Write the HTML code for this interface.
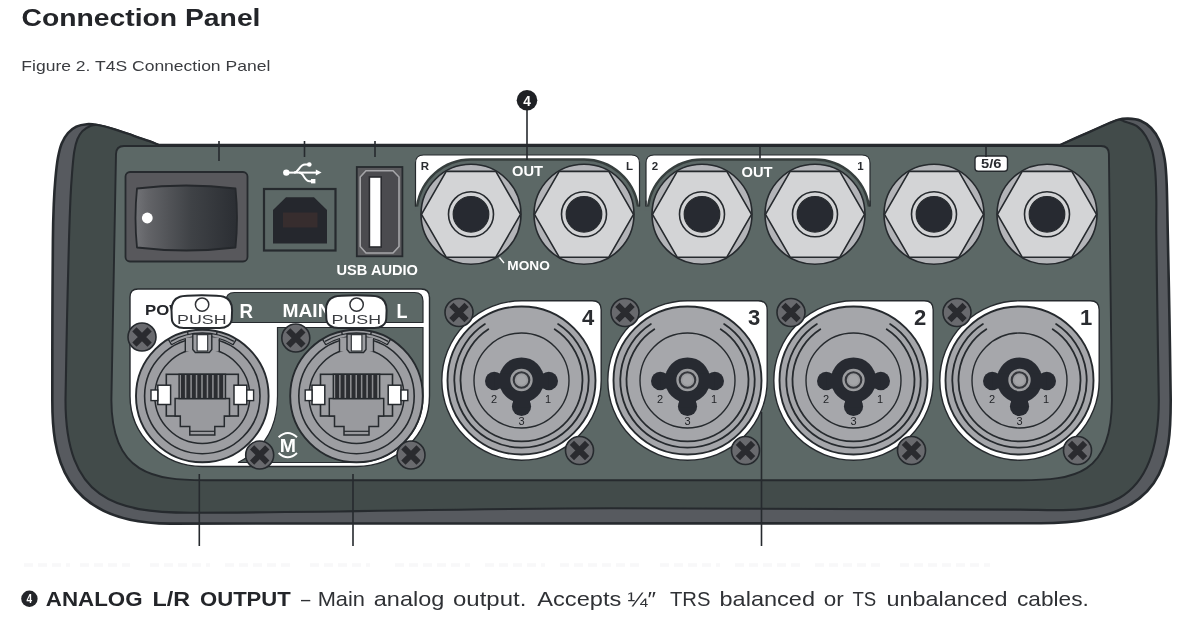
<!DOCTYPE html>
<html><head><meta charset="utf-8"><title>Connection Panel</title>
<style>html,body{margin:0;padding:0;background:#fff;}body{width:1200px;height:623px;overflow:hidden;font-family:"Liberation Sans",sans-serif;}svg{display:block;will-change:transform;opacity:0.999;}</style></head>
<body>
<svg width="1200" height="623" viewBox="0 0 1200 623" font-family="'Liberation Sans', sans-serif">
<defs><linearGradient id="rk" x1="0" y1="0" x2="1" y2="0"><stop offset="0" stop-color="#727377"/><stop offset="0.12" stop-color="#636468"/><stop offset="0.55" stop-color="#3f4246"/><stop offset="1" stop-color="#2b2e33"/></linearGradient></defs>
<rect width="1200" height="623" fill="#ffffff"/>
<text x="21.5" y="26.3" font-size="24.5" font-weight="bold" fill="#232529" textLength="239" lengthAdjust="spacingAndGlyphs">Connection Panel</text>
<text x="21.3" y="70.8" font-size="15" fill="#3a3c40" textLength="249" lengthAdjust="spacingAndGlyphs">Figure 2. T4S Connection Panel</text>
<path d="M158.8,145.1 C157.2,144.5 153.8,142.9 149.4,141.3 C145.1,139.7 138.6,137.5 132.7,135.5 C126.8,133.5 119.8,130.9 113.9,129.2 C108.0,127.4 101.7,125.8 97.2,125.0 C92.7,124.2 90.3,123.9 86.8,124.2 C83.3,124.5 79.4,125.2 76.3,126.7 C73.2,128.2 70.4,130.2 68.0,133.0 C65.6,135.8 63.4,139.2 61.7,143.4 C60.0,147.6 59.0,152.1 57.9,158.0 C56.8,163.9 56.1,171.2 55.4,178.9 C54.7,186.6 54.2,193.9 53.8,204.0 C53.4,214.1 53.1,220.1 52.9,239.4 C52.7,258.7 52.5,293.2 52.4,320.0 C52.3,346.8 52.3,386.7 52.3,400.0 C52.3,451.2 59.0,523.6 170.3,523.6 L1040.9,523.2 C1168.5,523.2 1170.7,457.5 1170.7,400 L1170.7,400.0 C1170.5,386.7 1170.0,347.6 1169.5,320.0 C1169.0,292.4 1168.3,257.0 1167.8,234.4 C1167.3,211.8 1167.2,196.8 1166.7,184.3 C1166.2,171.8 1165.9,166.6 1164.7,159.3 C1163.5,152.0 1161.7,145.7 1159.4,140.5 C1157.1,135.3 1154.2,131.3 1151.1,128.0 C1148.0,124.7 1144.4,122.3 1140.6,120.7 C1136.8,119.1 1131.9,118.7 1128.1,118.6 C1124.3,118.5 1122.2,118.6 1117.7,120.0 C1113.2,121.4 1106.9,124.4 1101.0,126.9 C1095.1,129.5 1088.5,132.5 1082.2,135.3 C1075.9,138.1 1066.9,142.0 1063.4,143.6 C1059.9,145.2 1061.4,144.8 1061.0,145.0 Z" fill="#575a5f" stroke="#262a2e" stroke-width="2.6" stroke-linejoin="round"/>
<path d="M158.8,145.1 C157.2,144.5 153.8,142.9 149.4,141.3 C145.1,139.7 138.6,137.5 132.7,135.5 C126.8,133.5 119.8,130.9 113.9,129.2 C108.0,127.4 101.2,125.5 97.2,125.0 C93.2,124.5 92.3,125.3 89.9,126.3 C87.5,127.3 84.7,128.8 82.6,130.9 C80.5,133.1 78.8,135.7 77.4,139.2 C76.0,142.7 75.1,146.2 74.2,151.8 C73.3,157.4 72.7,164.9 72.1,172.6 C71.5,180.2 71.0,186.6 70.5,197.7 C70.0,208.8 69.6,219.0 69.0,239.4 C68.4,259.8 67.6,293.2 67.0,320.0 C66.4,346.8 65.8,386.7 65.5,400.0 C65.5,499.6 114.6,512.7 191,512.7 C330,512.7 470,508.3 611,508.3 C760,508.3 900,508.6 1020,509.6 C1080.2,509.6 1158.8,525 1158.8,400 L1158.8,400.0 C1158.6,386.7 1157.9,347.6 1157.5,320.0 C1157.1,292.4 1156.5,254.6 1156.3,234.4 C1156.1,214.2 1156.5,209.3 1156.3,198.9 C1156.1,188.5 1156.0,179.8 1155.3,171.8 C1154.6,163.8 1153.7,156.8 1152.1,150.9 C1150.5,145.0 1148.5,140.5 1145.9,136.3 C1143.3,132.1 1140.0,128.3 1136.5,125.9 C1133.0,123.5 1128.1,122.7 1125.0,121.7 C1121.9,120.7 1121.7,119.1 1117.7,120.0 C1113.7,120.9 1106.9,124.4 1101.0,126.9 C1095.1,129.5 1088.5,132.5 1082.2,135.3 C1075.9,138.1 1066.9,142.0 1063.4,143.6 C1059.9,145.2 1061.4,144.8 1061.0,145.0 Z" fill="#424b4a" stroke="#262a2e" stroke-width="2.1" stroke-linejoin="round"/>
<path d="M124,146 L1101,146 Q1108.8,146 1108.9,154 L1111.9,400 C1111.9,474.7 1075.2,480.2 1020,480.2 L205,480.2 C154.8,480.2 111.4,474.7 111.4,400 L116,154 Q116.2,146 124,146 Z" fill="#5c6866" stroke="#262a2e" stroke-width="1.9"/>
<path d="M158.8,145.4 L1061,145.4" stroke="#262a2e" stroke-width="2.6" fill="none"/>
<rect x="125.5" y="172" width="122" height="89.5" rx="4.5" fill="#58585c" stroke="#262a2e" stroke-width="1.8"/>
<path d="M137,188.5 Q186,182.5 235.5,188.5 Q238.5,218 235.5,247.5 Q186,253.5 137,247.5 Q134,218 137,188.5 Z" fill="url(#rk)" stroke="#25282c" stroke-width="1.8" stroke-linejoin="round"/>
<circle cx="147.3" cy="218" r="5.4" fill="#ffffff"/>
<g stroke="#ffffff" stroke-width="2" fill="none"><path d="M287,172.6 L317,172.6"/><path d="M294,172.6 C299,172.6 299,164.6 305,164.6 L308,164.6"/><path d="M299,172.6 C304,172.6 304,181.2 309.5,181.2 L311.5,181.2"/></g>
<circle cx="286.3" cy="172.6" r="3.2" fill="#ffffff"/>
<circle cx="309.3" cy="164.5" r="2.3" fill="#ffffff"/>
<rect x="311" y="179" width="4.4" height="4.4" fill="#ffffff"/>
<path d="M315.8,169.6 L321.6,172.6 L315.8,175.6 Z" fill="#ffffff"/>
<rect x="264" y="189" width="71.5" height="61.5" fill="#5c6866" stroke="#262a2e" stroke-width="2.2"/>
<path d="M273,243.5 L273,210 L286,197.3 L314,197.3 L327,210 L327,243.5 Z" fill="#25272d"/>
<rect x="283" y="212.5" width="34.5" height="15" fill="#372d2e"/>
<rect x="356.8" y="167" width="45.6" height="89.3" fill="#59595c" stroke="#262a2e" stroke-width="1.8"/>
<path d="M366,170.8 L393,170.8 L399,177 L399,246.5 L393,253 L366,253 L360.2,246.5 L360.2,177 Z" fill="#4b4b4f" stroke="#a6a6a9" stroke-width="1.6"/>
<rect x="369.4" y="177" width="11.8" height="70" fill="#ffffff" stroke="#2a2b2f" stroke-width="1.6"/>
<text x="336.5" y="275" font-size="14.3" font-weight="bold" fill="#ffffff" textLength="81.5" lengthAdjust="spacingAndGlyphs">USB AUDIO</text>
<path d="M415.5,206.5 L415.5,163 Q415.5,155 423.5,155 L631.5,155 Q639.5,155 639.5,163 L639.5,206.5 Z" fill="#ffffff" stroke="#262a2e" stroke-width="1.2"/>
<path d="M417.0,208.0 L417.0,206.5 A54.5,54.5 0 0 1 471,159.5 L584,159.5 A54.5,54.5 0 0 1 638.0,206.5 L638.0,208.0 Z" fill="#5c6866"/>
<rect x="414.0" y="206.3" width="227.0" height="4" fill="#5c6866"/>
<path d="M417.0,206.5 A54.5,54.5 0 0 1 471,159.5 L584,159.5 A54.5,54.5 0 0 1 638.0,206.5" fill="none" stroke="#363e3d" stroke-width="2.4"/>
<path d="M415.5,200.5 L415.5,206.5 M639.5,200.5 L639.5,206.5" stroke="#262a2e" stroke-width="1.2"/>
<path d="M646,206.5 L646,163 Q646,155 654,155 L862,155 Q870,155 870,163 L870,206.5 Z" fill="#ffffff" stroke="#262a2e" stroke-width="1.2"/>
<path d="M648.0,208.0 L648.0,206.5 A54.5,54.5 0 0 1 702,159.5 L815,159.5 A54.5,54.5 0 0 1 869.0,206.5 L869.0,208.0 Z" fill="#5c6866"/>
<rect x="644.5" y="206.3" width="227" height="4" fill="#5c6866"/>
<path d="M648.0,206.5 A54.5,54.5 0 0 1 702,159.5 L815,159.5 A54.5,54.5 0 0 1 869.0,206.5" fill="none" stroke="#363e3d" stroke-width="2.4"/>
<path d="M646,200.5 L646,206.5 M870,200.5 L870,206.5" stroke="#262a2e" stroke-width="1.2"/>
<circle cx="471" cy="214.3" r="50" fill="#b3b4b8" stroke="#262a2e" stroke-width="1.6"/>
<polygon points="520.5,214.3 495.8,257.2 446.2,257.2 421.5,214.3 446.2,171.4 495.8,171.4" fill="#d3d4d6" stroke="#262a2e" stroke-width="1.6" stroke-linejoin="round"/>
<circle cx="471" cy="214.3" r="22.5" fill="#d3d4d6" stroke="#262a2e" stroke-width="1.6"/>
<circle cx="471" cy="214.3" r="17.8" fill="#272a31" stroke="#262a2e" stroke-width="1.2"/>
<circle cx="584" cy="214.3" r="50" fill="#b3b4b8" stroke="#262a2e" stroke-width="1.6"/>
<polygon points="633.5,214.3 608.8,257.2 559.2,257.2 534.5,214.3 559.2,171.4 608.8,171.4" fill="#d3d4d6" stroke="#262a2e" stroke-width="1.6" stroke-linejoin="round"/>
<circle cx="584" cy="214.3" r="22.5" fill="#d3d4d6" stroke="#262a2e" stroke-width="1.6"/>
<circle cx="584" cy="214.3" r="17.8" fill="#272a31" stroke="#262a2e" stroke-width="1.2"/>
<circle cx="702" cy="214.3" r="50" fill="#b3b4b8" stroke="#262a2e" stroke-width="1.6"/>
<polygon points="751.5,214.3 726.8,257.2 677.2,257.2 652.5,214.3 677.2,171.4 726.8,171.4" fill="#d3d4d6" stroke="#262a2e" stroke-width="1.6" stroke-linejoin="round"/>
<circle cx="702" cy="214.3" r="22.5" fill="#d3d4d6" stroke="#262a2e" stroke-width="1.6"/>
<circle cx="702" cy="214.3" r="17.8" fill="#272a31" stroke="#262a2e" stroke-width="1.2"/>
<circle cx="815" cy="214.3" r="50" fill="#b3b4b8" stroke="#262a2e" stroke-width="1.6"/>
<polygon points="864.5,214.3 839.8,257.2 790.2,257.2 765.5,214.3 790.2,171.4 839.8,171.4" fill="#d3d4d6" stroke="#262a2e" stroke-width="1.6" stroke-linejoin="round"/>
<circle cx="815" cy="214.3" r="22.5" fill="#d3d4d6" stroke="#262a2e" stroke-width="1.6"/>
<circle cx="815" cy="214.3" r="17.8" fill="#272a31" stroke="#262a2e" stroke-width="1.2"/>
<circle cx="934" cy="214.3" r="50" fill="#b3b4b8" stroke="#262a2e" stroke-width="1.6"/>
<polygon points="983.5,214.3 958.8,257.2 909.2,257.2 884.5,214.3 909.2,171.4 958.8,171.4" fill="#d3d4d6" stroke="#262a2e" stroke-width="1.6" stroke-linejoin="round"/>
<circle cx="934" cy="214.3" r="22.5" fill="#d3d4d6" stroke="#262a2e" stroke-width="1.6"/>
<circle cx="934" cy="214.3" r="17.8" fill="#272a31" stroke="#262a2e" stroke-width="1.2"/>
<circle cx="1047" cy="214.3" r="50" fill="#b3b4b8" stroke="#262a2e" stroke-width="1.6"/>
<polygon points="1096.5,214.3 1071.8,257.2 1022.2,257.2 997.5,214.3 1022.2,171.4 1071.8,171.4" fill="#d3d4d6" stroke="#262a2e" stroke-width="1.6" stroke-linejoin="round"/>
<circle cx="1047" cy="214.3" r="22.5" fill="#d3d4d6" stroke="#262a2e" stroke-width="1.6"/>
<circle cx="1047" cy="214.3" r="17.8" fill="#272a31" stroke="#262a2e" stroke-width="1.2"/>
<text x="425" y="170" font-size="11.5" font-weight="bold" fill="#2a2c30" text-anchor="middle">R</text>
<text x="629.5" y="170" font-size="11.5" font-weight="bold" fill="#2a2c30" text-anchor="middle">L</text>
<text x="655" y="170" font-size="11.5" font-weight="bold" fill="#2a2c30" text-anchor="middle">2</text>
<text x="860.5" y="170" font-size="11.5" font-weight="bold" fill="#2a2c30" text-anchor="middle">1</text>
<text x="527.5" y="176.3" font-size="14.5" font-weight="bold" fill="#ffffff" text-anchor="middle" textLength="31" lengthAdjust="spacingAndGlyphs">OUT</text>
<text x="757" y="176.8" font-size="14.5" font-weight="bold" fill="#ffffff" text-anchor="middle" textLength="31" lengthAdjust="spacingAndGlyphs">OUT</text>
<path d="M499.5,257.5 L504,263" stroke="#ffffff" stroke-width="1.3"/>
<text x="507.3" y="269.8" font-size="13" font-weight="bold" fill="#ffffff" textLength="42.5" lengthAdjust="spacingAndGlyphs">MONO</text>
<rect x="975" y="156" width="32.5" height="15.3" rx="3.2" fill="#ffffff" stroke="#262a2e" stroke-width="1.4"/>
<text x="991.2" y="168.4" font-size="12.5" font-weight="bold" fill="#2a2c30" text-anchor="middle" textLength="20.5" lengthAdjust="spacingAndGlyphs">5/6</text>
<path d="M219,141 L219,161 M304.5,141 L304.5,157 M375,141 L375,157 M760,145 L760,158.5 M986,145 L986,157" stroke="#262a2e" stroke-width="1.6" fill="none"/>
<path d="M527,108 L527,160" stroke="#262a2e" stroke-width="1.6" fill="none"/>
<circle cx="527" cy="100.3" r="10.3" fill="#1f2125"/>
<text x="527" y="106" font-size="15.5" font-weight="bold" fill="#ffffff" text-anchor="middle" textLength="7.6" lengthAdjust="spacingAndGlyphs">4</text>
<path d="M138,289 L421,289 Q429.5,289 429.5,297.5 L429.5,396 A73,70.5 0 0 1 356.5,466.5 L202.3,466.5 A72.3,70.5 0 0 1 130,396 L130,297 Q130,289 138,289 Z" fill="#ffffff" stroke="#262a2e" stroke-width="1.4"/>
<path d="M277.5,327.5 L423,327.5 L423,396 A66.5,66.5 0 0 1 356.5,462.5 L238,462.5 Q277.5,443 277.5,396 Z" fill="#5c6866" stroke="#262a2e" stroke-width="1.2"/>
<path d="M226,322.5 L226,301 Q226,292.5 234.5,292.5 L414.5,292.5 Q423,292.5 423,301 L423,322.5 Z" fill="#5c6866" stroke="#262a2e" stroke-width="1.2"/>
<text x="145" y="315.3" font-size="15" font-weight="bold" fill="#232529" textLength="40" lengthAdjust="spacingAndGlyphs">POW</text>
<text x="246.3" y="317.5" font-size="21" font-weight="bold" fill="#ffffff" text-anchor="middle" textLength="13.5" lengthAdjust="spacingAndGlyphs">R</text>
<text x="282.5" y="316.5" font-size="17.5" font-weight="bold" fill="#ffffff" textLength="49" lengthAdjust="spacingAndGlyphs">MAIN</text>
<text x="402" y="317.5" font-size="21" font-weight="bold" fill="#ffffff" text-anchor="middle" textLength="11" lengthAdjust="spacingAndGlyphs">L</text>
<circle cx="202.3" cy="396" r="66.3" fill="#9d9ea2" stroke="#262a2e" stroke-width="1.9"/>
<circle cx="202.3" cy="396" r="57.7" fill="#9d9ea2" stroke="#262a2e" stroke-width="1.6"/>
<circle cx="202.3" cy="396" r="47.5" fill="#9d9ea2" stroke="#262a2e" stroke-width="1.5"/>
<path d="M168.2,339.2 L171.7,345.0 M236.4,339.2 L232.9,345.0" stroke="#262a2e" stroke-width="1.4"/>
<path d="M170.8,341.4 A63,63 0 0 1 233.8,341.4" fill="none" stroke="#262a2e" stroke-width="1.3"/>
<path d="M171.5,344.7 A59.8,59.8 0 0 1 233.1,344.7" fill="none" stroke="#262a2e" stroke-width="1.3"/>
<path d="M187.4,331.4 L188.1,334.6" stroke="#262a2e" stroke-width="1.4"/>
<path d="M217.2,331.4 L216.5,334.6" stroke="#262a2e" stroke-width="1.4"/>
<rect x="185.8" y="337.5" width="33" height="14" fill="#9d9ea2"/>
<path d="M185.3,339 L185.3,351.7 M219.3,339 L219.3,351.7" stroke="#262a2e" stroke-width="1.4"/>
<path d="M192.8,334 L211.8,334 L211.8,349.5 L209.3,352.5 L195.3,352.5 L192.8,349.5 Z" fill="#9d9ea2" stroke="#262a2e" stroke-width="1.4" stroke-linejoin="round"/>
<rect x="197.10000000000002" y="334.7" width="10.6" height="16.3" fill="#ffffff" stroke="#262a2e" stroke-width="1.1"/>
<rect x="166.3" y="374.3" width="72" height="41.69999999999999" fill="#9d9ea2" stroke="#262a2e" stroke-width="1.6"/>
<path d="M175.10000000000002,398.6 L229.5,398.6 L229.5,416 L224.3,416 L224.3,426.5 L214.8,426.5 L214.8,435 L189.8,435 L189.8,426.5 L180.3,426.5 L180.3,416 L175.10000000000002,416 Z" fill="#999a9e" stroke="#262a2e" stroke-width="1.5" stroke-linejoin="miter"/>
<path d="M189.8,431.3 L214.8,431.3" fill="none" stroke="#262a2e" stroke-width="1.2"/>
<rect x="179.10000000000002" y="374.3" width="46.4" height="24.30000000000001" fill="#8a8b8e" stroke="#262a2e" stroke-width="1.4"/>
<rect x="181.0" y="374.90000000000003" width="3.9" height="23.1" fill="#2b2d31"/>
<rect x="186.4" y="374.90000000000003" width="3.9" height="23.1" fill="#2b2d31"/>
<rect x="191.9" y="374.90000000000003" width="3.9" height="23.1" fill="#2b2d31"/>
<rect x="197.3" y="374.90000000000003" width="3.9" height="23.1" fill="#2b2d31"/>
<rect x="202.8" y="374.90000000000003" width="3.9" height="23.1" fill="#2b2d31"/>
<rect x="208.2" y="374.90000000000003" width="3.9" height="23.1" fill="#2b2d31"/>
<rect x="213.7" y="374.90000000000003" width="3.9" height="23.1" fill="#2b2d31"/>
<rect x="219.2" y="374.90000000000003" width="3.9" height="23.1" fill="#2b2d31"/>
<rect x="157.8" y="385.2" width="12.8" height="19.3" fill="#ffffff" stroke="#262a2e" stroke-width="1.5"/>
<rect x="151.0" y="390" width="6.8" height="10.6" fill="#ffffff" stroke="#262a2e" stroke-width="1.4"/>
<rect x="234.0" y="385.2" width="12.8" height="19.3" fill="#ffffff" stroke="#262a2e" stroke-width="1.5"/>
<rect x="246.8" y="390" width="6.8" height="10.6" fill="#ffffff" stroke="#262a2e" stroke-width="1.4"/>
<circle cx="356.5" cy="396" r="66.3" fill="#9d9ea2" stroke="#262a2e" stroke-width="1.9"/>
<circle cx="356.5" cy="396" r="57.7" fill="#9d9ea2" stroke="#262a2e" stroke-width="1.6"/>
<circle cx="356.5" cy="396" r="47.5" fill="#9d9ea2" stroke="#262a2e" stroke-width="1.5"/>
<path d="M322.4,339.2 L325.9,345.0 M390.6,339.2 L387.1,345.0" stroke="#262a2e" stroke-width="1.4"/>
<path d="M325.0,341.4 A63,63 0 0 1 388.0,341.4" fill="none" stroke="#262a2e" stroke-width="1.3"/>
<path d="M325.7,344.7 A59.8,59.8 0 0 1 387.3,344.7" fill="none" stroke="#262a2e" stroke-width="1.3"/>
<path d="M341.6,331.4 L342.3,334.6" stroke="#262a2e" stroke-width="1.4"/>
<path d="M371.4,331.4 L370.7,334.6" stroke="#262a2e" stroke-width="1.4"/>
<rect x="340.0" y="337.5" width="33" height="14" fill="#9d9ea2"/>
<path d="M339.5,339 L339.5,351.7 M373.5,339 L373.5,351.7" stroke="#262a2e" stroke-width="1.4"/>
<path d="M347.0,334 L366.0,334 L366.0,349.5 L363.5,352.5 L349.5,352.5 L347.0,349.5 Z" fill="#9d9ea2" stroke="#262a2e" stroke-width="1.4" stroke-linejoin="round"/>
<rect x="351.3" y="334.7" width="10.6" height="16.3" fill="#ffffff" stroke="#262a2e" stroke-width="1.1"/>
<rect x="320.5" y="374.3" width="72" height="41.69999999999999" fill="#9d9ea2" stroke="#262a2e" stroke-width="1.6"/>
<path d="M329.3,398.6 L383.7,398.6 L383.7,416 L378.5,416 L378.5,426.5 L369.0,426.5 L369.0,435 L344.0,435 L344.0,426.5 L334.5,426.5 L334.5,416 L329.3,416 Z" fill="#999a9e" stroke="#262a2e" stroke-width="1.5" stroke-linejoin="miter"/>
<path d="M344.0,431.3 L369.0,431.3" fill="none" stroke="#262a2e" stroke-width="1.2"/>
<rect x="333.3" y="374.3" width="46.4" height="24.30000000000001" fill="#8a8b8e" stroke="#262a2e" stroke-width="1.4"/>
<rect x="335.2" y="374.90000000000003" width="3.9" height="23.1" fill="#2b2d31"/>
<rect x="340.6" y="374.90000000000003" width="3.9" height="23.1" fill="#2b2d31"/>
<rect x="346.1" y="374.90000000000003" width="3.9" height="23.1" fill="#2b2d31"/>
<rect x="351.6" y="374.90000000000003" width="3.9" height="23.1" fill="#2b2d31"/>
<rect x="357.0" y="374.90000000000003" width="3.9" height="23.1" fill="#2b2d31"/>
<rect x="362.4" y="374.90000000000003" width="3.9" height="23.1" fill="#2b2d31"/>
<rect x="367.9" y="374.90000000000003" width="3.9" height="23.1" fill="#2b2d31"/>
<rect x="373.3" y="374.90000000000003" width="3.9" height="23.1" fill="#2b2d31"/>
<rect x="312.0" y="385.2" width="12.8" height="19.3" fill="#ffffff" stroke="#262a2e" stroke-width="1.5"/>
<rect x="305.2" y="390" width="6.8" height="10.6" fill="#ffffff" stroke="#262a2e" stroke-width="1.4"/>
<rect x="388.2" y="385.2" width="12.8" height="19.3" fill="#ffffff" stroke="#262a2e" stroke-width="1.5"/>
<rect x="401.0" y="390" width="6.8" height="10.6" fill="#ffffff" stroke="#262a2e" stroke-width="1.4"/>
<path d="M201.8,295.2 C213.8,295.2 221.8,296.0 223.8,296.8 C230.8,299.2 232.10000000000002,305.2 232.10000000000002,310.2 L231.8,318 C231.8,325 225.8,328 219.8,328 L183.8,328 C177.8,328 171.8,325 171.8,318 L171.5,310.2 C171.5,305.2 172.8,299.2 179.8,296.8 C181.8,296.0 189.8,295.2 201.8,295.2 Z" fill="#ffffff" stroke="#262a2e" stroke-width="2"/>
<circle cx="202.10000000000002" cy="304.59999999999997" r="6.7" fill="#ffffff" stroke="#303236" stroke-width="1.5"/>
<text x="177.10000000000002" y="323.6" font-size="13.3" fill="#3a3c40" textLength="49.5" lengthAdjust="spacingAndGlyphs">PUSH</text>
<path d="M356.3,295.2 C368.3,295.2 376.3,296.0 378.3,296.8 C385.3,299.2 386.6,305.2 386.6,310.2 L386.3,318 C386.3,325 380.3,328 374.3,328 L338.3,328 C332.3,328 326.3,325 326.3,318 L326.0,310.2 C326.0,305.2 327.3,299.2 334.3,296.8 C336.3,296.0 344.3,295.2 356.3,295.2 Z" fill="#ffffff" stroke="#262a2e" stroke-width="2"/>
<circle cx="356.6" cy="304.59999999999997" r="6.7" fill="#ffffff" stroke="#303236" stroke-width="1.5"/>
<text x="331.6" y="323.6" font-size="13.3" fill="#3a3c40" textLength="49.5" lengthAdjust="spacingAndGlyphs">PUSH</text>
<circle cx="142" cy="337" r="14" fill="#696a6e" stroke="#262a2e" stroke-width="1.6"/>
<path d="M134.4,329.4 L149.6,344.6 M134.4,344.6 L149.6,329.4" stroke="#2a2b2f" stroke-width="6" fill="none"/>
<circle cx="295.8" cy="338" r="14" fill="#696a6e" stroke="#262a2e" stroke-width="1.6"/>
<path d="M288.2,330.4 L303.40000000000003,345.6 M288.2,345.6 L303.40000000000003,330.4" stroke="#2a2b2f" stroke-width="6" fill="none"/>
<circle cx="259.7" cy="455" r="14" fill="#696a6e" stroke="#262a2e" stroke-width="1.6"/>
<path d="M252.1,447.4 L267.3,462.6 M252.1,462.6 L267.3,447.4" stroke="#2a2b2f" stroke-width="6" fill="none"/>
<circle cx="411" cy="455" r="14" fill="#696a6e" stroke="#262a2e" stroke-width="1.6"/>
<path d="M403.4,447.4 L418.6,462.6 M403.4,462.6 L418.6,447.4" stroke="#2a2b2f" stroke-width="6" fill="none"/>
<text x="287.8" y="452.2" font-size="19" font-weight="bold" fill="#ffffff" text-anchor="middle" textLength="16.2" lengthAdjust="spacingAndGlyphs">M</text>
<path d="M278.6,437.2 Q287.8,428.6 297,437.2 M278.6,453 Q287.8,461.6 297,453" stroke="#ffffff" stroke-width="1.9" fill="none"/>
<path d="M521.5,300.8 L592.2,300.8 Q601.2,300.8 601.2,309.8 L601.2,380.5 A79.7,79.7 0 1 1 521.5,300.8 Z" fill="#ffffff" stroke="#262a2e" stroke-width="1.4" stroke-linejoin="round"/>
<circle cx="521.5" cy="380.5" r="74" fill="#a5a6aa" stroke="#262a2e" stroke-width="1.9"/>
<path d="M558.1,324.1 A67.2,67.2 0 1 1 484.9,324.1" fill="none" stroke="#262a2e" stroke-width="1.8" stroke-linecap="round"/>
<path d="M554.7,329.3 A61,61 0 1 1 488.3,329.3" fill="none" stroke="#262a2e" stroke-width="1.8" stroke-linecap="round"/>
<circle cx="521.5" cy="380.5" r="47.5" fill="#a6a7ab" stroke="#262a2e" stroke-width="1.4"/>
<circle cx="521.5" cy="380.0" r="22.6" fill="#272a31"/>
<circle cx="494.2" cy="381.0" r="9.2" fill="#272a31"/>
<circle cx="548.8" cy="381.0" r="9.2" fill="#272a31"/>
<rect x="494.2" y="373.5" width="54.6" height="15" fill="#272a31"/>
<circle cx="521.5" cy="406.5" r="9.6" fill="#272a31"/>
<rect x="513.0" y="390.5" width="17" height="17" fill="#272a31"/>
<circle cx="521.5" cy="380.0" r="11.2" fill="#9b9c9f"/>
<circle cx="521.5" cy="380.0" r="7.8" fill="#9b9c9f" stroke="#35373c" stroke-width="2.1"/>
<circle cx="521.5" cy="380.0" r="5" fill="#a4a5a8"/>
<text x="494.0" y="403.3" font-size="11" fill="#1f2125" text-anchor="middle">2</text>
<text x="548.0" y="403.3" font-size="11" fill="#1f2125" text-anchor="middle">1</text>
<text x="521.5" y="425.3" font-size="11" fill="#1f2125" text-anchor="middle">3</text>
<text x="588.0" y="325.0" font-size="22" font-weight="bold" fill="#2a2c30" text-anchor="middle">4</text>
<circle cx="459.0" cy="312.5" r="14" fill="#696a6e" stroke="#262a2e" stroke-width="1.6"/>
<path d="M451.4,304.9 L466.6,320.1 M451.4,320.1 L466.6,304.9" stroke="#2a2b2f" stroke-width="6" fill="none"/>
<circle cx="579.5" cy="450.5" r="14" fill="#696a6e" stroke="#262a2e" stroke-width="1.6"/>
<path d="M571.9,442.9 L587.1,458.1 M571.9,458.1 L587.1,442.9" stroke="#2a2b2f" stroke-width="6" fill="none"/>
<path d="M687.5,300.8 L758.2,300.8 Q767.2,300.8 767.2,309.8 L767.2,380.5 A79.7,79.7 0 1 1 687.5,300.8 Z" fill="#ffffff" stroke="#262a2e" stroke-width="1.4" stroke-linejoin="round"/>
<circle cx="687.5" cy="380.5" r="74" fill="#a5a6aa" stroke="#262a2e" stroke-width="1.9"/>
<path d="M724.1,324.1 A67.2,67.2 0 1 1 650.9,324.1" fill="none" stroke="#262a2e" stroke-width="1.8" stroke-linecap="round"/>
<path d="M720.7,329.3 A61,61 0 1 1 654.3,329.3" fill="none" stroke="#262a2e" stroke-width="1.8" stroke-linecap="round"/>
<circle cx="687.5" cy="380.5" r="47.5" fill="#a6a7ab" stroke="#262a2e" stroke-width="1.4"/>
<circle cx="687.5" cy="380.0" r="22.6" fill="#272a31"/>
<circle cx="660.2" cy="381.0" r="9.2" fill="#272a31"/>
<circle cx="714.8" cy="381.0" r="9.2" fill="#272a31"/>
<rect x="660.2" y="373.5" width="54.6" height="15" fill="#272a31"/>
<circle cx="687.5" cy="406.5" r="9.6" fill="#272a31"/>
<rect x="679.0" y="390.5" width="17" height="17" fill="#272a31"/>
<circle cx="687.5" cy="380.0" r="11.2" fill="#9b9c9f"/>
<circle cx="687.5" cy="380.0" r="7.8" fill="#9b9c9f" stroke="#35373c" stroke-width="2.1"/>
<circle cx="687.5" cy="380.0" r="5" fill="#a4a5a8"/>
<text x="660.0" y="403.3" font-size="11" fill="#1f2125" text-anchor="middle">2</text>
<text x="714.0" y="403.3" font-size="11" fill="#1f2125" text-anchor="middle">1</text>
<text x="687.5" y="425.3" font-size="11" fill="#1f2125" text-anchor="middle">3</text>
<text x="754.0" y="325.0" font-size="22" font-weight="bold" fill="#2a2c30" text-anchor="middle">3</text>
<circle cx="625.0" cy="312.5" r="14" fill="#696a6e" stroke="#262a2e" stroke-width="1.6"/>
<path d="M617.4,304.9 L632.6,320.1 M617.4,320.1 L632.6,304.9" stroke="#2a2b2f" stroke-width="6" fill="none"/>
<circle cx="745.5" cy="450.5" r="14" fill="#696a6e" stroke="#262a2e" stroke-width="1.6"/>
<path d="M737.9,442.9 L753.1,458.1 M737.9,458.1 L753.1,442.9" stroke="#2a2b2f" stroke-width="6" fill="none"/>
<path d="M853.5,300.8 L924.2,300.8 Q933.2,300.8 933.2,309.8 L933.2,380.5 A79.7,79.7 0 1 1 853.5,300.8 Z" fill="#ffffff" stroke="#262a2e" stroke-width="1.4" stroke-linejoin="round"/>
<circle cx="853.5" cy="380.5" r="74" fill="#a5a6aa" stroke="#262a2e" stroke-width="1.9"/>
<path d="M890.1,324.1 A67.2,67.2 0 1 1 816.9,324.1" fill="none" stroke="#262a2e" stroke-width="1.8" stroke-linecap="round"/>
<path d="M886.7,329.3 A61,61 0 1 1 820.3,329.3" fill="none" stroke="#262a2e" stroke-width="1.8" stroke-linecap="round"/>
<circle cx="853.5" cy="380.5" r="47.5" fill="#a6a7ab" stroke="#262a2e" stroke-width="1.4"/>
<circle cx="853.5" cy="380.0" r="22.6" fill="#272a31"/>
<circle cx="826.2" cy="381.0" r="9.2" fill="#272a31"/>
<circle cx="880.8" cy="381.0" r="9.2" fill="#272a31"/>
<rect x="826.2" y="373.5" width="54.6" height="15" fill="#272a31"/>
<circle cx="853.5" cy="406.5" r="9.6" fill="#272a31"/>
<rect x="845.0" y="390.5" width="17" height="17" fill="#272a31"/>
<circle cx="853.5" cy="380.0" r="11.2" fill="#9b9c9f"/>
<circle cx="853.5" cy="380.0" r="7.8" fill="#9b9c9f" stroke="#35373c" stroke-width="2.1"/>
<circle cx="853.5" cy="380.0" r="5" fill="#a4a5a8"/>
<text x="826.0" y="403.3" font-size="11" fill="#1f2125" text-anchor="middle">2</text>
<text x="880.0" y="403.3" font-size="11" fill="#1f2125" text-anchor="middle">1</text>
<text x="853.5" y="425.3" font-size="11" fill="#1f2125" text-anchor="middle">3</text>
<text x="920.0" y="325.0" font-size="22" font-weight="bold" fill="#2a2c30" text-anchor="middle">2</text>
<circle cx="791.0" cy="312.5" r="14" fill="#696a6e" stroke="#262a2e" stroke-width="1.6"/>
<path d="M783.4,304.9 L798.6,320.1 M783.4,320.1 L798.6,304.9" stroke="#2a2b2f" stroke-width="6" fill="none"/>
<circle cx="911.5" cy="450.5" r="14" fill="#696a6e" stroke="#262a2e" stroke-width="1.6"/>
<path d="M903.9,442.9 L919.1,458.1 M903.9,458.1 L919.1,442.9" stroke="#2a2b2f" stroke-width="6" fill="none"/>
<path d="M1019.5,300.8 L1090.2,300.8 Q1099.2,300.8 1099.2,309.8 L1099.2,380.5 A79.7,79.7 0 1 1 1019.5,300.8 Z" fill="#ffffff" stroke="#262a2e" stroke-width="1.4" stroke-linejoin="round"/>
<circle cx="1019.5" cy="380.5" r="74" fill="#a5a6aa" stroke="#262a2e" stroke-width="1.9"/>
<path d="M1056.1,324.1 A67.2,67.2 0 1 1 982.9,324.1" fill="none" stroke="#262a2e" stroke-width="1.8" stroke-linecap="round"/>
<path d="M1052.7,329.3 A61,61 0 1 1 986.3,329.3" fill="none" stroke="#262a2e" stroke-width="1.8" stroke-linecap="round"/>
<circle cx="1019.5" cy="380.5" r="47.5" fill="#a6a7ab" stroke="#262a2e" stroke-width="1.4"/>
<circle cx="1019.5" cy="380.0" r="22.6" fill="#272a31"/>
<circle cx="992.2" cy="381.0" r="9.2" fill="#272a31"/>
<circle cx="1046.8" cy="381.0" r="9.2" fill="#272a31"/>
<rect x="992.2" y="373.5" width="54.6" height="15" fill="#272a31"/>
<circle cx="1019.5" cy="406.5" r="9.6" fill="#272a31"/>
<rect x="1011.0" y="390.5" width="17" height="17" fill="#272a31"/>
<circle cx="1019.5" cy="380.0" r="11.2" fill="#9b9c9f"/>
<circle cx="1019.5" cy="380.0" r="7.8" fill="#9b9c9f" stroke="#35373c" stroke-width="2.1"/>
<circle cx="1019.5" cy="380.0" r="5" fill="#a4a5a8"/>
<text x="992.0" y="403.3" font-size="11" fill="#1f2125" text-anchor="middle">2</text>
<text x="1046.0" y="403.3" font-size="11" fill="#1f2125" text-anchor="middle">1</text>
<text x="1019.5" y="425.3" font-size="11" fill="#1f2125" text-anchor="middle">3</text>
<text x="1086.0" y="325.0" font-size="22" font-weight="bold" fill="#2a2c30" text-anchor="middle">1</text>
<circle cx="957.0" cy="312.5" r="14" fill="#696a6e" stroke="#262a2e" stroke-width="1.6"/>
<path d="M949.4,304.9 L964.6,320.1 M949.4,320.1 L964.6,304.9" stroke="#2a2b2f" stroke-width="6" fill="none"/>
<circle cx="1077.5" cy="450.5" r="14" fill="#696a6e" stroke="#262a2e" stroke-width="1.6"/>
<path d="M1069.9,442.9 L1085.1,458.1 M1069.9,458.1 L1085.1,442.9" stroke="#2a2b2f" stroke-width="6" fill="none"/>
<path d="M199.3,474 L199.3,546 M353,474 L353,546 M761.5,412 L761.5,546" stroke="#262a2e" stroke-width="1.6" fill="none"/>
<path d="M24,565 H70 M80,565 H130 M150,565 H210 M225,565 H290 M310,565 H370 M395,565 H470 M485,565 H545 M560,565 H640 M660,565 H720 M735,565 H800 M815,565 H880 M900,565 H990" stroke="#f8f8f9" stroke-width="3.5" stroke-dasharray="9 5" fill="none"/>
<circle cx="29.4" cy="598.7" r="8.2" fill="#232529"/>
<text x="29.4" y="603" font-size="12" font-weight="bold" fill="#ffffff" text-anchor="middle" textLength="5.6" lengthAdjust="spacingAndGlyphs">4</text>
<text x="45.8" y="605.7" font-size="20.3" font-weight="bold" fill="#232529" textLength="96.70" lengthAdjust="spacingAndGlyphs">ANALOG</text>
<text x="152.5" y="605.7" font-size="20.3" font-weight="bold" fill="#232529" textLength="37.50" lengthAdjust="spacingAndGlyphs">L/R</text>
<text x="200" y="605.7" font-size="20.3" font-weight="bold" fill="#232529" textLength="90.80" lengthAdjust="spacingAndGlyphs">OUTPUT</text>
<text x="301" y="605.7" font-size="20.3" fill="#2f3135" textLength="9.30" lengthAdjust="spacingAndGlyphs">–</text>
<text x="317.7" y="605.7" font-size="20.3" fill="#2f3135" textLength="47.30" lengthAdjust="spacingAndGlyphs">Main</text>
<text x="373.8" y="605.7" font-size="20.3" fill="#2f3135" textLength="70.50" lengthAdjust="spacingAndGlyphs">analog</text>
<text x="453" y="605.7" font-size="20.3" fill="#2f3135" textLength="73.30" lengthAdjust="spacingAndGlyphs">output.</text>
<text x="537.3" y="605.7" font-size="20.3" fill="#2f3135" textLength="84.00" lengthAdjust="spacingAndGlyphs">Accepts</text>
<text x="627.5" y="605.7" font-size="20.3" fill="#2f3135" textLength="28.50" lengthAdjust="spacingAndGlyphs">¼″</text>
<text x="670" y="605.7" font-size="20.3" fill="#2f3135" textLength="40.50" lengthAdjust="spacingAndGlyphs">TRS</text>
<text x="719.5" y="605.7" font-size="20.3" fill="#2f3135" textLength="95.50" lengthAdjust="spacingAndGlyphs">balanced</text>
<text x="823.8" y="605.7" font-size="20.3" fill="#2f3135" textLength="20.00" lengthAdjust="spacingAndGlyphs">or</text>
<text x="852.5" y="605.7" font-size="20.3" fill="#2f3135" textLength="23.80" lengthAdjust="spacingAndGlyphs">TS</text>
<text x="886.5" y="605.7" font-size="20.3" fill="#2f3135" textLength="121.00" lengthAdjust="spacingAndGlyphs">unbalanced</text>
<text x="1017" y="605.7" font-size="20.3" fill="#2f3135" textLength="71.80" lengthAdjust="spacingAndGlyphs">cables.</text>
</svg>
</body></html>
